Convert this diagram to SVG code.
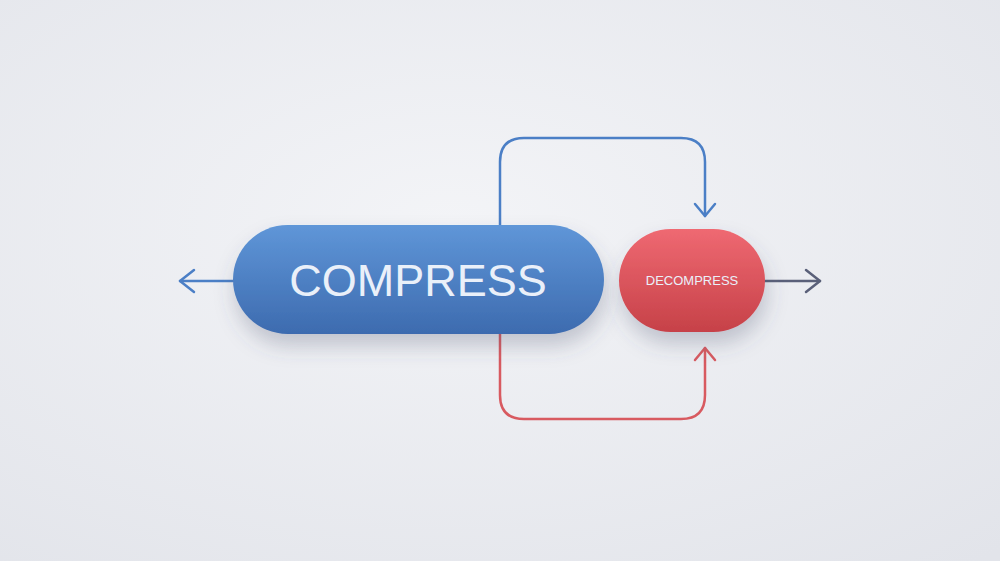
<svg xmlns="http://www.w3.org/2000/svg" width="1000" height="561" viewBox="0 0 1000 561">
  <defs>
    <radialGradient id="bg" cx="0.45" cy="0.4" r="0.8">
      <stop offset="0" stop-color="#f3f4f7"/>
      <stop offset="1" stop-color="#e2e4ea"/>
    </radialGradient>
    <linearGradient id="blueFill" x1="0" y1="0" x2="0" y2="1">
      <stop offset="0" stop-color="#5f96d8"/>
      <stop offset="1" stop-color="#3d6baf"/>
    </linearGradient>
    <linearGradient id="redFill" x1="0" y1="0" x2="0" y2="1">
      <stop offset="0" stop-color="#ef6972"/>
      <stop offset="1" stop-color="#c64148"/>
    </linearGradient>
    <filter id="shadow" x="-20%" y="-30%" width="140%" height="180%">
      <feDropShadow dx="2" dy="12" stdDeviation="10" flood-color="#4a5270" flood-opacity="0.28"/>
    </filter>
    <style>
      .conn { fill: none; stroke-width: 2.5; stroke-linecap: round; stroke-linejoin: round; }
      .blue { stroke: #4b7fc6; }
      .red { stroke: #d85a60; }
      .dark { stroke: #5a6079; }
      .label { font-family: "Liberation Sans", Arial, sans-serif; fill: #eaf0f9; text-anchor: middle; }
    </style>
  </defs>
  <rect width="1000" height="561" fill="url(#bg)"/>

  <g id="connectors">
    <!-- left output arrow -->
    <path class="conn blue" d="M233 281 H180"/>
    <path class="conn blue" d="M194 270 L180 281 L194 292"/>
    <!-- top loop: compress to decompress -->
    <path class="conn blue" d="M500 225 V162 Q500 138 524 138 H681 Q705 138 705 162 V216"/>
    <path class="conn blue" d="M695 204 L705 216 L715 204"/>
    <!-- bottom loop: compress to decompress -->
    <path class="conn red" d="M500 334 V395 Q500 419 524 419 H681 Q705 419 705 395 V348"/>
    <path class="conn red" d="M695 360 L705 348 L715 360"/>
    <!-- right output arrow -->
    <path class="conn dark" d="M765 281 H820"/>
    <path class="conn dark" d="M806 270 L820 281 L806 292"/>
  </g>

  <g id="compress">
    <rect x="233" y="225" width="371" height="109" rx="54.5" fill="url(#blueFill)" filter="url(#shadow)"/>
    <text class="label" x="418" y="296" font-size="45">COMPRESS</text>
  </g>

  <g id="decompress">
    <rect x="619" y="229" width="146" height="103" rx="51.5" fill="url(#redFill)" filter="url(#shadow)"/>
    <text class="label" x="692" y="285" font-size="13">DECOMPRESS</text>
  </g>
</svg>
